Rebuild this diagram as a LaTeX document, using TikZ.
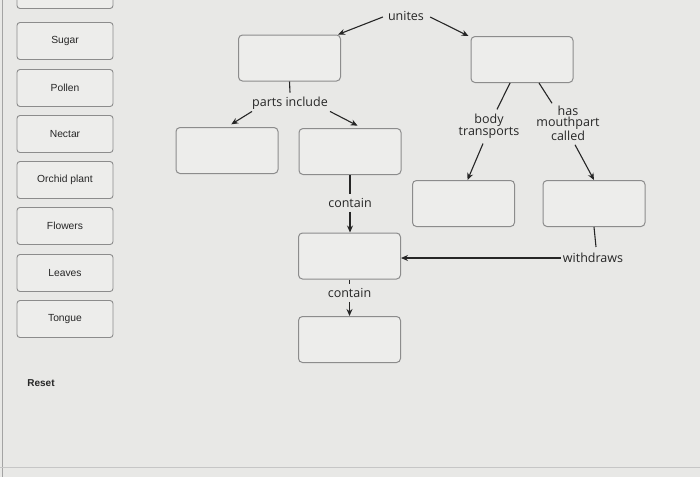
\documentclass[tikz,border=0pt]{standalone}
\usepackage{fontspec}
\setmainfont{Liberation Sans}
\newfontfamily\labfont{Open Sans}
\usetikzlibrary{arrows.meta}
\definecolor{bgc}{HTML}{E8E8E6}
\definecolor{boxfill}{HTML}{EDEDEB}
\definecolor{boxline}{HTML}{8C8C8C}
\definecolor{ink}{HTML}{262626}
\tikzset{
  bank/.style={draw=boxline, fill=boxfill, line width=0.9pt, rounded corners=3pt,
    minimum width=96pt, minimum height=37pt, inner sep=0pt, font=\fontsize{10.3}{12}\selectfont, text=ink},
  slot/.style={draw=boxline, fill=boxfill, line width=1pt, rounded corners=4pt,
    minimum width=102pt, minimum height=46pt, inner sep=0pt},
  lab/.style={inner sep=1pt, font=\labfont\fontsize{12.5}{11}\selectfont, text=ink, align=center},
  conn/.style={draw=ink, line width=1.1pt},
  arr/.style={conn, -{Stealth[length=7pt,width=6pt]}}
}
\begin{document}
\begin{tikzpicture}[x=1pt,y=-1pt]
\useasboundingbox (0,0) rectangle (700,477);
\clip (0,0) rectangle (700,477);
\fill[bgc] (0,0) rectangle (700,477);
\draw[boxline!80, line width=1pt] (2,0) -- (2,477);
\draw[boxline!50, line width=1pt] (0,467) -- (700,467);
% word bank
\node[bank] (w0) at (65,-10) {};
\node[bank] (w1) at (65,41) {Sugar};
\node[bank] (w2) at (65,88) {Pollen};
\node[bank] (w3) at (65,134) {Nectar};
\node[bank] (w4) at (65,180) {Orchid plant};
\node[bank] (w5) at (65,226) {Flowers};
\node[bank] (w6) at (65,273) {Leaves};
\node[bank] (w7) at (65,319) {Tongue};
\node[inner sep=0pt, font=\bfseries\fontsize{10}{12}\selectfont, text=ink] (reset) at (41,383) {Reset};
% slots
\node[slot] (A) at (289.5,58) {};
\node[slot] (B) at (522,59.5) {};
\node[slot] (C) at (227,150.5) {};
\node[slot] (D) at (350,151.5) {};
\node[slot] (E) at (463.5,203.5) {};
\node[slot] (F) at (594,203.5) {};
\node[slot] (G) at (349.5,256) {};
\node[slot] (H) at (349.5,339.5) {};
% labels
\node[lab] (un) at (406,16) {unites};
\node[lab] (pi) at (290,103) {parts include};
\node[lab] (bt) at (489,126) {body\\transports};
\node[lab] (hm) at (568,123.5) {has\\mouthpart\\called};
\node[lab] (c1) at (350,203) {contain};
\node[lab] (c2) at (349.5,293) {contain};
\node[lab] (wd) at (593,258) {withdraws};
% connectors
\draw[arr] ([xshift=-4pt,yshift=-1pt]un.west) -- ([xshift=-3pt]A.north east);
\draw[arr] ([xshift=5pt,yshift=-1pt]un.east) -- ([xshift=-2pt]B.north west);
\draw[conn] (A.south) -- ([yshift=3pt]pi.north);
\draw[arr, shorten >=5pt] ([xshift=1pt,yshift=-1pt]pi.south west) -- (C.north);
\draw[arr, shorten >=5pt] ([xshift=1pt,yshift=-1pt]pi.south east) -- ([xshift=12pt]D.north);
\draw[conn] ([xshift=-12pt]B.south) -- ([xshift=8pt,yshift=3pt]bt.north);
\draw[arr] ([xshift=-6pt,yshift=-4pt]bt.south) -- ([xshift=4pt]E.north);
\draw[conn] ([xshift=17pt]B.south) -- ([xshift=-16pt,yshift=2pt]hm.north);
\draw[arr] ([xshift=7pt,yshift=-3pt]hm.south) -- (F.north);
\draw[conn] (D.south) -- ([yshift=3pt]c1.north);
\draw[arr] ([yshift=-3pt]c1.south) -- (c1.south |- G.north);
\draw[conn] (G.south) -- ([yshift=3pt]c2.north);
\draw[arr] ([yshift=-3pt]c2.south) -- (H.north);
\draw[conn] (F.south) -- ([xshift=3pt,yshift=5pt]wd.north);
\draw[arr] ([xshift=-1pt]wd.west) -- (wd.west -| G.east);
\end{tikzpicture}
\end{document}
